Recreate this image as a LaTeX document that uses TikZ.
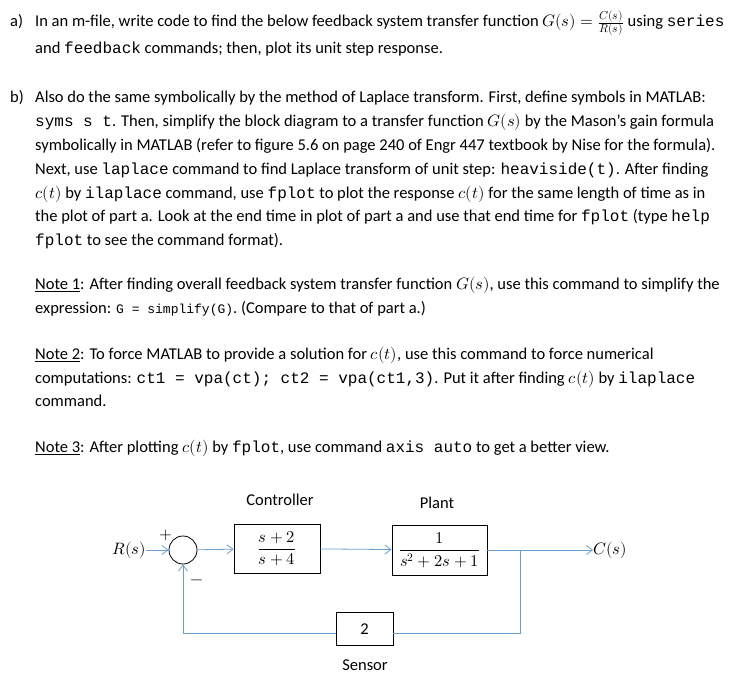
\documentclass[tikz,border=0pt]{standalone}
\usepackage{unicode-math}
\setmainfont{Carlito}
\setmonofont{Liberation Mono}
\setmathfont{Latin Modern Math}
\usetikzlibrary{arrows.meta}
\newcommand{\cc}[1]{{\fontsize{16}{19}\ttfamily #1}}
\definecolor{sig}{HTML}{6A9FD4}
\tikzset{
  ln/.style={anchor=base west,inner sep=0pt},
  blk/.style={draw,thick,inner sep=0pt},
  sigl/.style={draw=sig,thick},
  sarr/.style={sigl,-{Straight Barb[length=6pt,width=9pt]}},
  lab/.style={inner sep=0pt}
}
\begin{document}
\fontsize{16.5}{19}\selectfont
\begin{tikzpicture}[x=1pt,y=-1pt]
\useasboundingbox (0,0) rectangle (756,690);
\node[ln] (la) at (10,27) {a)};
\node[ln] (a1) at (35,27) {In an m-file, write code to find the below feedback system transfer function $G(s)=\frac{C(s)}{R(s)}$ using \cc{series}};
\node[ln] (a2) at (35,54) {and \cc{feedback} commands; then, plot its unit step response.};
\node[ln] (lb) at (10,103) {b)};
\node[ln] (b1) at (35,103) {Also do the same symbolically by the method of Laplace transform. First, define symbols in MATLAB:};
\node[ln] (b2) at (35,127) {\cc{syms s t}. Then, simplify the block diagram to a transfer function $G(s)$ by the Mason's gain formula};
\node[ln] (b3) at (35,151) {symbolically in MATLAB (refer to figure 5.6 on page 240 of Engr 447 textbook by Nise for the formula).};
\node[ln] (b4) at (35,175) {Next, use \cc{laplace} command to find Laplace transform of unit step: \cc{heaviside(t)}. After finding};
\node[ln] (b5) at (35,199) {$c(t)$ by \cc{ilaplace} command, use \cc{fplot} to plot the response $c(t)$ for the same length of time as in};
\node[ln] (b6) at (35,222) {the plot of part a. Look at the end time in plot of part a and use that end time for \cc{fplot} (type \cc{help}};
\node[ln] (b7) at (35,246) {\cc{fplot} to see the command format).};
\node[ln] (n11) at (35,289) {\underline{Note 1}: After finding overall feedback system transfer function $G(s)$, use this command to simplify the};
\node[ln] (n12) at (35,313) {expression: {\fontsize{13}{15}\ttfamily G = simplify(G)}. (Compare to that of part a.)};
\node[ln] (n21) at (35,359) {\underline{Note 2}: To force MATLAB to provide a solution for $c(t)$, use this command to force numerical};
\node[ln] (n22) at (35,383) {computations: \cc{ct1 = vpa(ct); ct2 = vpa(ct1,3)}. Put it after finding $c(t)$ by \cc{ilaplace}};
\node[ln] (n23) at (35,406) {command.};
\node[ln] (n31) at (35,452) {\underline{Note 3}: After plotting $c(t)$ by \cc{fplot}, use command \cc{axis auto} to get a better view.};
% diagram
\node[lab] (ctl) at (280,500) {Controller};
\node[lab] (plt) at (437,503) {Plant};
\node[blk,minimum width=86pt,minimum height=49pt] (g1) at (277,548.5) {$\displaystyle\frac{s+2}{s+4}$};
\node[blk,minimum width=95pt,minimum height=50pt] (g2) at (439.5,550) {$\displaystyle\frac{1}{s^2+2s+1}$};
\node[draw,thick,circle,minimum size=28pt,inner sep=0pt] (sum) at (183,550) {};
\node[blk,minimum width=57pt,minimum height=33pt] (h) at (364.5,629) {2};
\node[lab] (sen) at (365,665) {Sensor};
\node[lab,anchor=east] (r) at (146,550) {$R(s)$};
\node[lab,anchor=west] (c) at (593,550) {$C(s)$};
\node[lab] (pl) at (166,535) {$+$};
\node[lab] (mi) at (197,582) {$-$};
\coordinate (tp) at (520,550);
\coordinate (bl) at (183,633);
\coordinate (br) at (520,633);
\draw[sarr] (r) -- (sum);
\draw[sarr] (sum) -- (g1);
\draw[sarr] (g1) -- (g2);
\draw[sarr] (g2) -- (c);
\draw[sigl] (tp) -- (br) -- (br -| h.east);
\draw[sarr] (bl -| h.west) -- (bl) -- (sum);
\end{tikzpicture}
\end{document}
